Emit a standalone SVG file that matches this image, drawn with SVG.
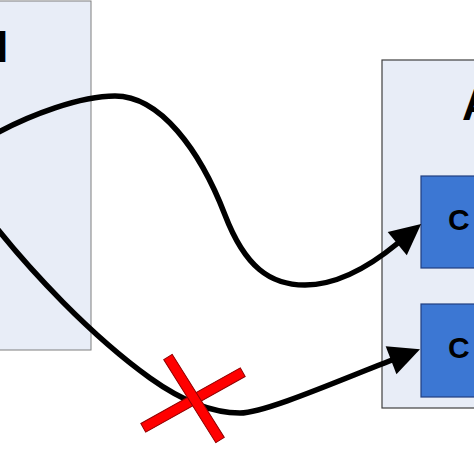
<svg xmlns="http://www.w3.org/2000/svg" width="474" height="474" viewBox="0 0 474 474">
<defs>
<style>
.panel{fill:#e8edf7;}
.blue{fill:#3c77d3;stroke:#203f80;stroke-width:1.2;}
.lbl{font-family:"Liberation Sans",Arial,sans-serif;font-weight:bold;fill:#000;}
.wire{fill:none;stroke:#000;stroke-width:5.5;}
.bar{fill:#ff0000;stroke:#900000;stroke-width:1;}
</style>
<marker id="ah" markerUnits="userSpaceOnUse" markerWidth="40" markerHeight="40" refX="1" refY="0" viewBox="0 -20 40 40" orient="auto" overflow="visible">
<path d="M0,-15 L31,0 L0,15 Z" fill="#000"/>
</marker>
</defs>
<rect width="474" height="474" fill="#fff"/>
<g id="left-panel">
<rect class="panel" x="-2" y="1" width="93" height="349" stroke="#7f7f7f" stroke-width="1"/>
<text class="lbl" x="-4" y="62" font-size="44">I</text>
</g>
<g id="right-panel">
<rect class="panel" x="382" y="60" width="100" height="348" stroke="#404040" stroke-width="1.2"/>
<text class="lbl" x="462" y="120" font-size="44">A</text>
</g>
<g id="c1">
<rect class="blue" x="421" y="176" width="60" height="92"/>
<text class="lbl" x="448" y="230" font-size="30">C</text>
</g>
<g id="c2">
<rect class="blue" x="421" y="304" width="60" height="93"/>
<text class="lbl" x="448" y="358" font-size="30">C</text>
</g>
<g id="connectors">
<path class="wire" marker-end="url(#ah)" d="M-5,134 C30,115 80,96 115,96 C160,96 200,150 225,215 C245,267 270,285 305,285 C340,285 375,262 398,243"/>
<path class="wire" marker-end="url(#ah)" d="M-5,226 C30,270 90,335 150,378 C185,403 215,413 240,413 C265,413 340,380 392,360"/>
</g>
<g id="cross">
<rect class="bar" x="136" y="395" width="114" height="10" transform="rotate(-29.2 193 400)"/>
<rect class="bar" x="145" y="393.5" width="98" height="10" transform="rotate(57.9 194 398.5)"/>
</g>
</svg>
